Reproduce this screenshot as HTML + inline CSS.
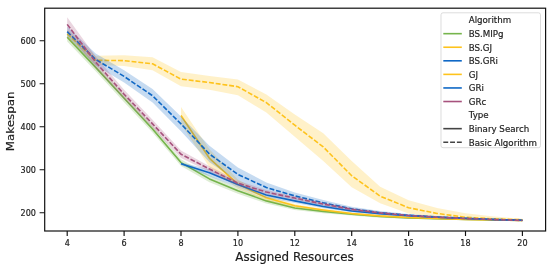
<!DOCTYPE html>
<html><head><meta charset="utf-8"><title>Makespan vs Assigned Resources</title>
<style>
html,body{margin:0;padding:0;background:#fff;}
body{width:550px;height:269px;overflow:hidden;position:relative;}
.t{font-family:"DejaVu Sans","Liberation Sans",sans-serif;fill:#1c1c1c;stroke:#1c1c1c;stroke-width:0.18px;}
</style></head><body>
<svg width="550" height="269" viewBox="0 0 550 269" style="position:absolute;left:0;top:0">
<rect width="550" height="269" fill="#fff"/>
<polyline points="67.20,37.26 95.65,67.36 124.10,98.32 152.55,128.98 181.00,162.60 209.45,178.90 237.90,190.77 266.35,200.88 294.80,207.97 323.25,211.41 351.70,214.25 380.15,216.57 408.60,217.86 437.05,218.72 465.50,219.36 493.95,220.01 522.40,220.44" fill="none" stroke="#76b54c" stroke-width="1.6" stroke-linejoin="round"/>
<polygon points="67.20,32.96 95.65,63.49 124.10,94.45 152.55,125.54 181.00,159.16 209.45,175.46 237.90,187.76 266.35,198.29 294.80,205.82 323.25,209.69 351.70,212.96 380.15,215.49 408.60,217.00 437.05,217.86 465.50,218.72 493.95,219.58 522.40,220.01 522.40,220.87 493.95,220.44 465.50,220.01 437.05,219.58 408.60,218.72 380.15,217.64 351.70,215.54 323.25,213.13 294.80,210.12 266.35,203.45 237.90,193.78 209.45,182.34 181.00,166.04 152.55,132.42 124.10,102.19 95.65,71.23 67.20,41.56" fill="#76b54c" fill-opacity="0.24"/>
<polyline points="181.00,115.52 209.45,158.31 237.90,184.10 266.35,197.82 294.80,205.82 323.25,209.99 351.70,213.56 380.15,215.88 408.60,217.43 437.05,218.50 465.50,219.36 493.95,220.01 522.40,220.44" fill="none" stroke="#fec31c" stroke-width="1.6" stroke-linejoin="round"/>
<polygon points="181.00,106.92 209.45,149.27 237.90,179.38 266.35,195.24 294.80,204.10 323.25,208.70 351.70,212.48 380.15,215.02 408.60,216.57 437.05,217.86 465.50,218.94 493.95,219.58 522.40,220.01 522.40,220.87 493.95,220.44 465.50,219.79 437.05,219.15 408.60,218.29 380.15,216.74 351.70,214.63 323.25,211.28 294.80,207.54 266.35,200.40 237.90,188.83 209.45,167.33 181.00,124.12" fill="#fec31c" fill-opacity="0.24"/>
<polyline points="181.00,163.68 209.45,172.71 237.90,184.53 266.35,195.07 294.80,200.88 323.25,206.46 351.70,211.07 380.15,213.77 408.60,215.71 437.05,217.21 465.50,218.50 493.95,219.58 522.40,220.22" fill="none" stroke="#0f68c6" stroke-width="1.6" stroke-linejoin="round"/>
<polygon points="181.00,162.39 209.45,169.27 237.90,181.52 266.35,192.49 294.80,198.72 323.25,204.74 351.70,209.78 380.15,212.70 408.60,214.85 437.05,216.35 465.50,217.86 493.95,219.15 522.40,219.79 522.40,220.66 493.95,220.01 465.50,219.15 437.05,218.07 408.60,216.57 380.15,214.85 351.70,212.36 323.25,208.19 294.80,203.02 266.35,197.65 237.90,187.54 209.45,176.15 181.00,164.97" fill="#0f68c6" fill-opacity="0.24"/>
<polyline points="67.20,33.82 95.65,60.26 124.10,60.61 152.55,63.79 181.00,79.14 209.45,82.50 237.90,86.71 266.35,102.62 294.80,125.19 323.25,146.91 351.70,175.72 380.15,196.14 408.60,207.75 437.05,213.43 465.50,217.30 493.95,218.85 522.40,219.75" fill="none" stroke="#fec31c" stroke-width="1.6" stroke-linejoin="round" stroke-dasharray="4.9 1.9"/>
<polygon points="67.20,29.52 95.65,55.75 124.10,55.15 152.55,57.34 181.00,72.05 209.45,76.05 237.90,79.40 266.35,94.45 294.80,114.44 323.25,133.15 351.70,161.10 380.15,186.69 408.60,200.23 437.05,207.97 465.50,213.34 493.95,216.57 522.40,218.72 522.40,220.66 493.95,220.22 465.50,219.36 437.05,217.43 408.60,213.56 380.15,203.24 351.70,187.33 323.25,161.10 294.80,136.81 266.35,112.51 237.90,95.31 209.45,89.72 181.00,86.24 152.55,70.24 124.10,66.07 95.65,64.78 67.20,38.12" fill="#fec31c" fill-opacity="0.24"/>
<polyline points="67.20,31.67 95.65,59.41 124.10,76.39 152.55,95.74 181.00,123.90 209.45,154.00 237.90,174.43 266.35,187.54 294.80,195.93 323.25,202.81 351.70,208.83 380.15,212.70 408.60,215.28 437.05,217.00 465.50,218.29 493.95,219.36 522.40,220.22" fill="none" stroke="#0f68c6" stroke-width="1.6" stroke-linejoin="round" stroke-dasharray="4.9 1.9"/>
<polygon points="67.20,26.51 95.65,53.38 124.10,70.16 152.55,89.07 181.00,116.59 209.45,145.83 237.90,167.55 266.35,182.60 294.80,192.49 323.25,200.01 351.70,206.68 380.15,210.98 408.60,213.99 437.05,215.92 465.50,217.43 493.95,218.72 522.40,219.79 522.40,220.66 493.95,220.01 465.50,219.15 437.05,218.07 408.60,216.57 380.15,214.42 351.70,210.98 323.25,205.60 294.80,199.37 266.35,192.49 237.90,181.31 209.45,162.17 181.00,131.21 152.55,102.40 124.10,82.62 95.65,65.42 67.20,36.83" fill="#0f68c6" fill-opacity="0.24"/>
<polyline points="67.20,24.36 95.65,62.20 124.10,94.19 152.55,123.90 181.00,154.22 209.45,169.06 237.90,183.25 266.35,192.06 294.80,198.08 323.25,204.10 351.70,209.35 380.15,212.91 408.60,215.49 437.05,217.21 465.50,218.50 493.95,219.58 522.40,220.44" fill="none" stroke="#a7527d" stroke-width="1.6" stroke-linejoin="round" stroke-dasharray="4.9 1.9"/>
<polygon points="67.20,17.26 95.65,56.61 124.10,89.68 152.55,119.82 181.00,150.56 209.45,166.26 237.90,180.66 266.35,189.91 294.80,196.36 323.25,202.59 351.70,208.06 380.15,211.84 408.60,214.63 437.05,216.35 465.50,217.86 493.95,219.15 522.40,220.01 522.40,220.87 493.95,220.01 465.50,219.15 437.05,218.07 408.60,216.35 380.15,213.99 351.70,210.64 323.25,205.60 294.80,199.80 266.35,194.21 237.90,185.82 209.45,171.85 181.00,157.88 152.55,127.99 124.10,98.71 95.65,67.79 67.20,31.45" fill="#a7527d" fill-opacity="0.24"/>
<rect x="44.7" y="8.2" width="500.90000000000003" height="222.8" fill="none" stroke="#111" stroke-width="1.2"/>
<path d="M67.20 231.0 v5.1 M124.10 231.0 v5.1 M181.00 231.0 v5.1 M237.90 231.0 v5.1 M294.80 231.0 v5.1 M351.70 231.0 v5.1 M408.60 231.0 v5.1 M465.50 231.0 v5.1 M522.40 231.0 v5.1 M44.7 212.70 h-5.1 M44.7 169.70 h-5.1 M44.7 126.70 h-5.1 M44.7 83.70 h-5.1 M44.7 40.70 h-5.1" stroke="#111" stroke-width="1.15" fill="none"/>
<text transform="translate(67.20 246.1) scale(0.955 1)" font-size="8.45" text-anchor="middle" class="t">4</text>
<text transform="translate(124.10 246.1) scale(0.955 1)" font-size="8.45" text-anchor="middle" class="t">6</text>
<text transform="translate(181.00 246.1) scale(0.955 1)" font-size="8.45" text-anchor="middle" class="t">8</text>
<text transform="translate(237.90 246.1) scale(0.955 1)" font-size="8.45" text-anchor="middle" class="t">10</text>
<text transform="translate(294.80 246.1) scale(0.955 1)" font-size="8.45" text-anchor="middle" class="t">12</text>
<text transform="translate(351.70 246.1) scale(0.955 1)" font-size="8.45" text-anchor="middle" class="t">14</text>
<text transform="translate(408.60 246.1) scale(0.955 1)" font-size="8.45" text-anchor="middle" class="t">16</text>
<text transform="translate(465.50 246.1) scale(0.955 1)" font-size="8.45" text-anchor="middle" class="t">18</text>
<text transform="translate(522.40 246.1) scale(0.955 1)" font-size="8.45" text-anchor="middle" class="t">20</text>
<text transform="translate(35.9 215.80) scale(0.955 1)" font-size="8.45" text-anchor="end" class="t">200</text>
<text transform="translate(35.9 172.80) scale(0.955 1)" font-size="8.45" text-anchor="end" class="t">300</text>
<text transform="translate(35.9 129.80) scale(0.955 1)" font-size="8.45" text-anchor="end" class="t">400</text>
<text transform="translate(35.9 86.80) scale(0.955 1)" font-size="8.45" text-anchor="end" class="t">500</text>
<text transform="translate(35.9 43.80) scale(0.955 1)" font-size="8.45" text-anchor="end" class="t">600</text>
<text x="294.5" y="261.4" font-size="11.9" text-anchor="middle" class="t">Assigned Resources</text>
<text transform="translate(14.3 121.4) rotate(-90) scale(1 0.93)" font-size="11.9" text-anchor="middle" class="t">Makespan</text>
<rect x="441" y="12.8" width="99.5" height="134.9" rx="2" ry="2" fill="#fff" fill-opacity="0.8" stroke="#d4d4d4" stroke-opacity="0.9" stroke-width="0.9"/>
<text x="468.7" y="23.40" font-size="8.7" class="t">Algorithm</text>
<path d="M443.3 33.67 H461.8" stroke="#76b54c" stroke-width="1.6"/>
<text x="468.7" y="36.97" font-size="8.7" class="t">BS.MIPg</text>
<path d="M443.3 47.24 H461.8" stroke="#fec31c" stroke-width="1.6"/>
<text x="468.7" y="50.54" font-size="8.7" class="t">BS.GJ</text>
<path d="M443.3 60.81 H461.8" stroke="#0f68c6" stroke-width="1.6"/>
<text x="468.7" y="64.11" font-size="8.7" class="t">BS.GRi</text>
<path d="M443.3 74.38 H461.8" stroke="#fec31c" stroke-width="1.6"/>
<text x="468.7" y="77.68" font-size="8.7" class="t">GJ</text>
<path d="M443.3 87.95 H461.8" stroke="#0f68c6" stroke-width="1.6"/>
<text x="468.7" y="91.25" font-size="8.7" class="t">GRi</text>
<path d="M443.3 101.52 H461.8" stroke="#a7527d" stroke-width="1.6"/>
<text x="468.7" y="104.82" font-size="8.7" class="t">GRc</text>
<text x="468.7" y="118.39" font-size="8.7" class="t">Type</text>
<path d="M443.3 128.66 H461.8" stroke="#444" stroke-width="1.6"/>
<text x="468.7" y="131.96" font-size="8.7" class="t">Binary Search</text>
<path d="M443.3 142.23 H461.8" stroke="#444" stroke-width="1.6" stroke-dasharray="4.9 1.9"/>
<text x="468.7" y="145.53" font-size="8.7" class="t">Basic Algorithm</text>
</svg>
</body></html>
